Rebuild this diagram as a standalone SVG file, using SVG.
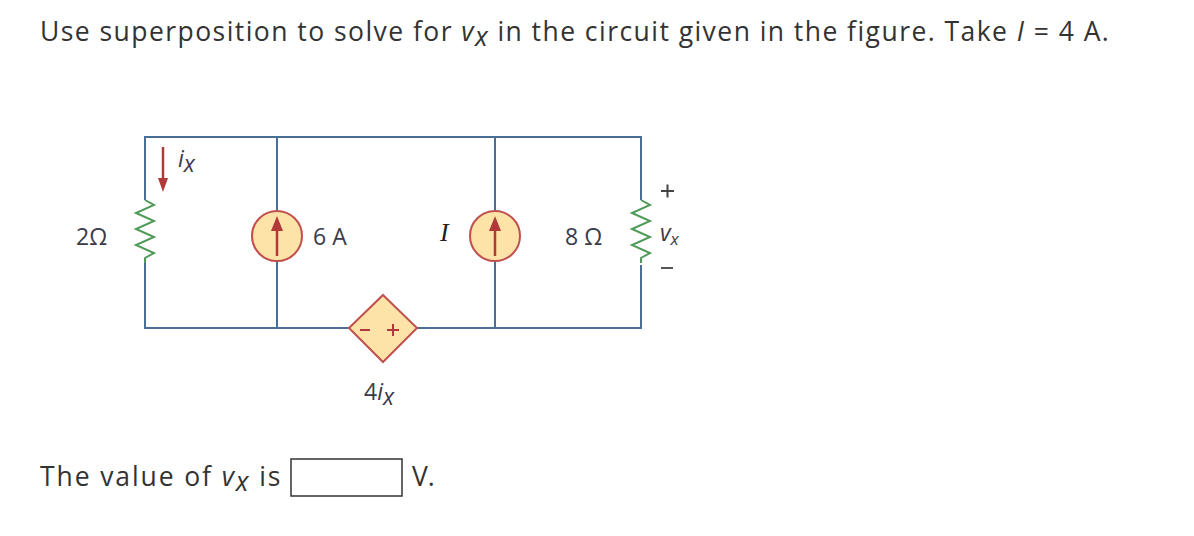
<svg xmlns="http://www.w3.org/2000/svg" width="1194" height="536" viewBox="0 0 1194 536">
<style>
.w{stroke:#4a6f96;stroke-width:2;fill:none}
.r{stroke:#4f9a5a;stroke-width:2;fill:none}
.src{fill:#fde3a7;stroke:#c0504d;stroke-width:2}
.t{font-family:"Open Sans","Liberation Sans",sans-serif;fill:#333}
.c{font-family:"Open Sans","Liberation Sans",sans-serif;fill:#3a3a48;font-size:23px}
</style>
<text class="t" x="40" y="41" font-size="26.5" letter-spacing="1.45">Use superposition to solve for <tspan font-style="italic">v</tspan><tspan font-style="italic" dy="5">x</tspan><tspan dy="-5"> in the circuit given in the figure. Take </tspan><tspan font-style="italic">I</tspan> = 4 A.</text>
<g id="connectors">
<path class="w" d="M145,200 V137 H641 V200 M641,265 V328 H417 M349,328 H145 V263 M277,137 V211 M277,261 V328 M495,137 V211 M495,261 V328"/>
<line x1="163" y1="147" x2="163" y2="180" stroke="#b03a3a" stroke-width="2.5"/>
<path d="M158,178 L168,178 L163,192 z" fill="#b03a3a"/>
</g>
<g id="r2"><path class="r" d="M145,200 l9,5 l-18,8 l18,8 l-18,8 l18,8 l-18,8 l18,8 l-9,5 v5"/>
<text class="c" x="76" y="245">2Ω</text></g>
<g id="ix"><text class="c" x="178" y="167" font-style="italic" font-size="20">i<tspan dy="5">x</tspan></text></g>
<g id="s6"><circle class="src" cx="277" cy="236" r="25"/><line x1="277" y1="256" x2="277" y2="228" stroke="#b03a3a" stroke-width="2.5"/><path d="M271,231 L277,216 L283,231 z" fill="#b03a3a"/>
<text class="c" x="313" y="245">6 A</text></g>
<g id="sI"><circle class="src" cx="495" cy="236" r="25"/><line x1="495" y1="256" x2="495" y2="228" stroke="#b03a3a" stroke-width="2.5"/><path d="M489,231 L495,216 L501,231 z" fill="#b03a3a"/>
<text x="440" y="241" font-family="Liberation Serif,serif" font-style="italic" font-size="26" fill="#222">I</text></g>
<g id="dep"><path class="src" d="M383,295 L417,328 L383,362 L349,328 z"/>
<path d="M360,330 h10 M387,330 h12 M393,324 v12" stroke="#b03a3a" stroke-width="2"/>
<text class="c" x="364" y="400">4<tspan font-style="italic">i</tspan><tspan font-style="italic" dy="5">x</tspan></text></g>
<g id="r8"><path class="r" d="M641,200 l9,5 l-18,8 l18,8 l-18,8 l18,8 l-18,8 l18,8 l-9,5 v5"/>
<text class="c" x="565" y="245">8 Ω</text>
<path d="M661,191 h13 M667.5,184.5 v13" stroke="#444" stroke-width="2"/>
<text class="c" x="660" y="241" font-family="Liberation Serif,serif" font-style="italic" font-size="20">v<tspan dy="4" font-family="Open Sans,sans-serif" font-size="17">x</tspan></text>
<path d="M661,268 h12" stroke="#555" stroke-width="2"/></g>
<text class="t" x="40" y="486" font-size="26.5" letter-spacing="1.9">The value of <tspan font-style="italic">v</tspan><tspan font-style="italic" dy="5">x</tspan><tspan dy="-5"> is</tspan></text>
<rect x="291" y="459" width="111" height="37" fill="#fff" stroke="#333" stroke-width="1.5"/>
<text class="t" x="412" y="486" font-size="26.5">V.</text>
</svg>
